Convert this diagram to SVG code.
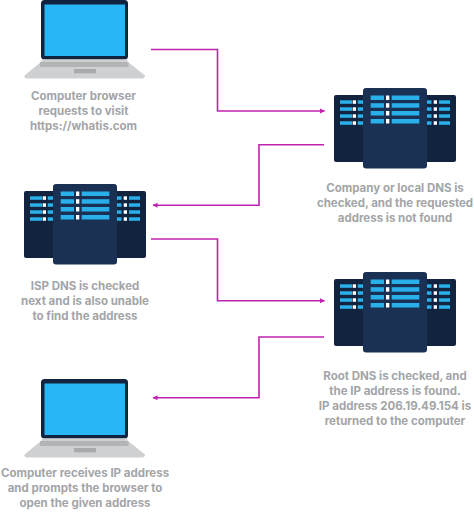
<svg xmlns="http://www.w3.org/2000/svg" width="474" height="512" viewBox="0 0 474 512">
<style>
.t{font-family:"Inter","Liberation Sans",sans-serif;font-size:11.5px;font-weight:700;fill:#a3a5a8;text-anchor:middle}
.c{fill:none;stroke:#c022b0;stroke-width:1.6}
.sb{fill:#12233f}.sc{fill:#1a3153}.b{fill:#29b0ea}.w{fill:#fff}
</style>
<defs>
<marker id="a" markerWidth="5" markerHeight="6" refX="4.500" refY="3" orient="auto" markerUnits="userSpaceOnUse"><path d="M0 .5L5 3L0 5.500Z" fill="#c022b0"/></marker>
<g id="lap">
<path d="M41 62H128L145 75.500Q145 78.500 142 78.500H27Q24 78.500 24.500 75.500L41 62Z" fill="#cfd0d2"/>
<rect x="41" y="0" width="87" height="59.500" rx="3.500" fill="#12233f"/>
<rect x="44.500" y="4.500" width="80.500" height="51.500" fill="#29b6f6"/>
<path d="M42 59.500H127L129 67H40Z" fill="#cfd0d2"/>
<rect x="40" y="62" width="88.500" height="5" fill="#b3b4b6"/>
<rect x="74" y="69" width="22" height="4.300" fill="#a9aaac"/>
</g>
<g id="srv">
<rect x="0" y="7" width="32" height="67" rx="2" class="sb"/>
<rect x="90" y="7" width="32" height="67" rx="2" class="sb"/>
<rect x="29" y="0" width="64" height="80.500" rx="3" class="sc"/>
<g class="b">
<rect x="6" y="12.300" width="12" height="3.500"/><rect x="6" y="19.300" width="12" height="3.500"/><rect x="6" y="26.300" width="12" height="3.500"/><rect x="6" y="33.300" width="12" height="3.500"/>
<rect x="23.700" y="12.300" width="5.300" height="3.500"/><rect x="23.700" y="19.300" width="5.300" height="3.500"/><rect x="23.700" y="26.300" width="5.300" height="3.500"/><rect x="23.700" y="33.300" width="5.300" height="3.500"/>
<rect x="93" y="12.300" width="4.500" height="3.500"/><rect x="93" y="19.300" width="4.500" height="3.500"/><rect x="93" y="26.300" width="4.500" height="3.500"/><rect x="93" y="33.300" width="4.500" height="3.500"/>
<rect x="105" y="12.300" width="11" height="3.500"/><rect x="105" y="19.300" width="11" height="3.500"/><rect x="105" y="26.300" width="11" height="3.500"/><rect x="105" y="33.300" width="11" height="3.500"/>
<rect x="36.700" y="7.500" width="13.300" height="4.500"/><rect x="36.700" y="15.200" width="13.300" height="4.500"/><rect x="36.700" y="23" width="13.300" height="4.500"/><rect x="36.700" y="31" width="13.300" height="4.500"/>
<rect x="57.700" y="7.500" width="27.600" height="4.500"/><rect x="57.700" y="15.200" width="27.600" height="4.500"/><rect x="57.700" y="23" width="27.600" height="4.500"/><rect x="57.700" y="31" width="27.600" height="4.500"/>
</g>
<g class="w">
<rect x="18.700" y="12.300" width="3.300" height="3.500"/><rect x="18.700" y="19.300" width="3.300" height="3.500"/><rect x="18.700" y="26.300" width="3.300" height="3.500"/><rect x="18.700" y="33.300" width="3.300" height="3.500"/>
<rect x="99.700" y="12.300" width="3.300" height="3.500"/><rect x="99.700" y="19.300" width="3.300" height="3.500"/><rect x="99.700" y="26.300" width="3.300" height="3.500"/><rect x="99.700" y="33.300" width="3.300" height="3.500"/>
<rect x="52" y="7.500" width="3.300" height="4.500"/><rect x="52" y="15.200" width="3.300" height="4.500"/><rect x="52" y="23" width="3.300" height="4.500"/><rect x="52" y="31" width="3.300" height="4.500"/>
</g>
</g>
</defs>
<g id="connectors">
<path class="c" d="M151 49.500H217.500V111H324.500" marker-end="url(#a)"/>
<path class="c" d="M324 144.700H259V205.300H153" marker-end="url(#a)"/>
<path class="c" d="M151 239H217.500V300.700H324.500" marker-end="url(#a)"/>
<path class="c" d="M324 337H259V397.700H153" marker-end="url(#a)"/>
</g>
<g id="node-browser"><use href="#lap"/><text class="t"><tspan x="83.500" y="99.500">Computer browser</tspan><tspan x="83.500" y="114.800">requests to visit</tspan><tspan x="83.500" y="130">https://whatis.com</tspan></text></g>
<g id="node-local"><use href="#srv" x="334" y="88"/><text class="t"><tspan x="395" y="191.700">Company or local DNS is</tspan><tspan x="395" y="206.700">checked, and the requested</tspan><tspan x="395" y="221.700">address is not found</tspan></text></g>
<g id="node-isp"><use href="#srv" x="24" y="184"/><text class="t"><tspan x="85" y="290">ISP DNS is checked</tspan><tspan x="85" y="305">next and is also unable</tspan><tspan x="85" y="320">to find the address</tspan></text></g>
<g id="node-root"><use href="#srv" x="334" y="272"/><text class="t"><tspan x="395" y="379.500">Root DNS is checked, and</tspan><tspan x="395" y="394.500">the IP address is found.</tspan><tspan x="395" y="410">IP address 206.19.49.154 is</tspan><tspan x="395" y="425">returned to the computer</tspan></text></g>
<g id="node-computer"><use href="#lap" y="379"/><text class="t"><tspan x="85" y="477">Computer receives IP address</tspan><tspan x="85" y="492">and prompts the browser to</tspan><tspan x="85" y="507">open the given address</tspan></text></g>
</svg>
